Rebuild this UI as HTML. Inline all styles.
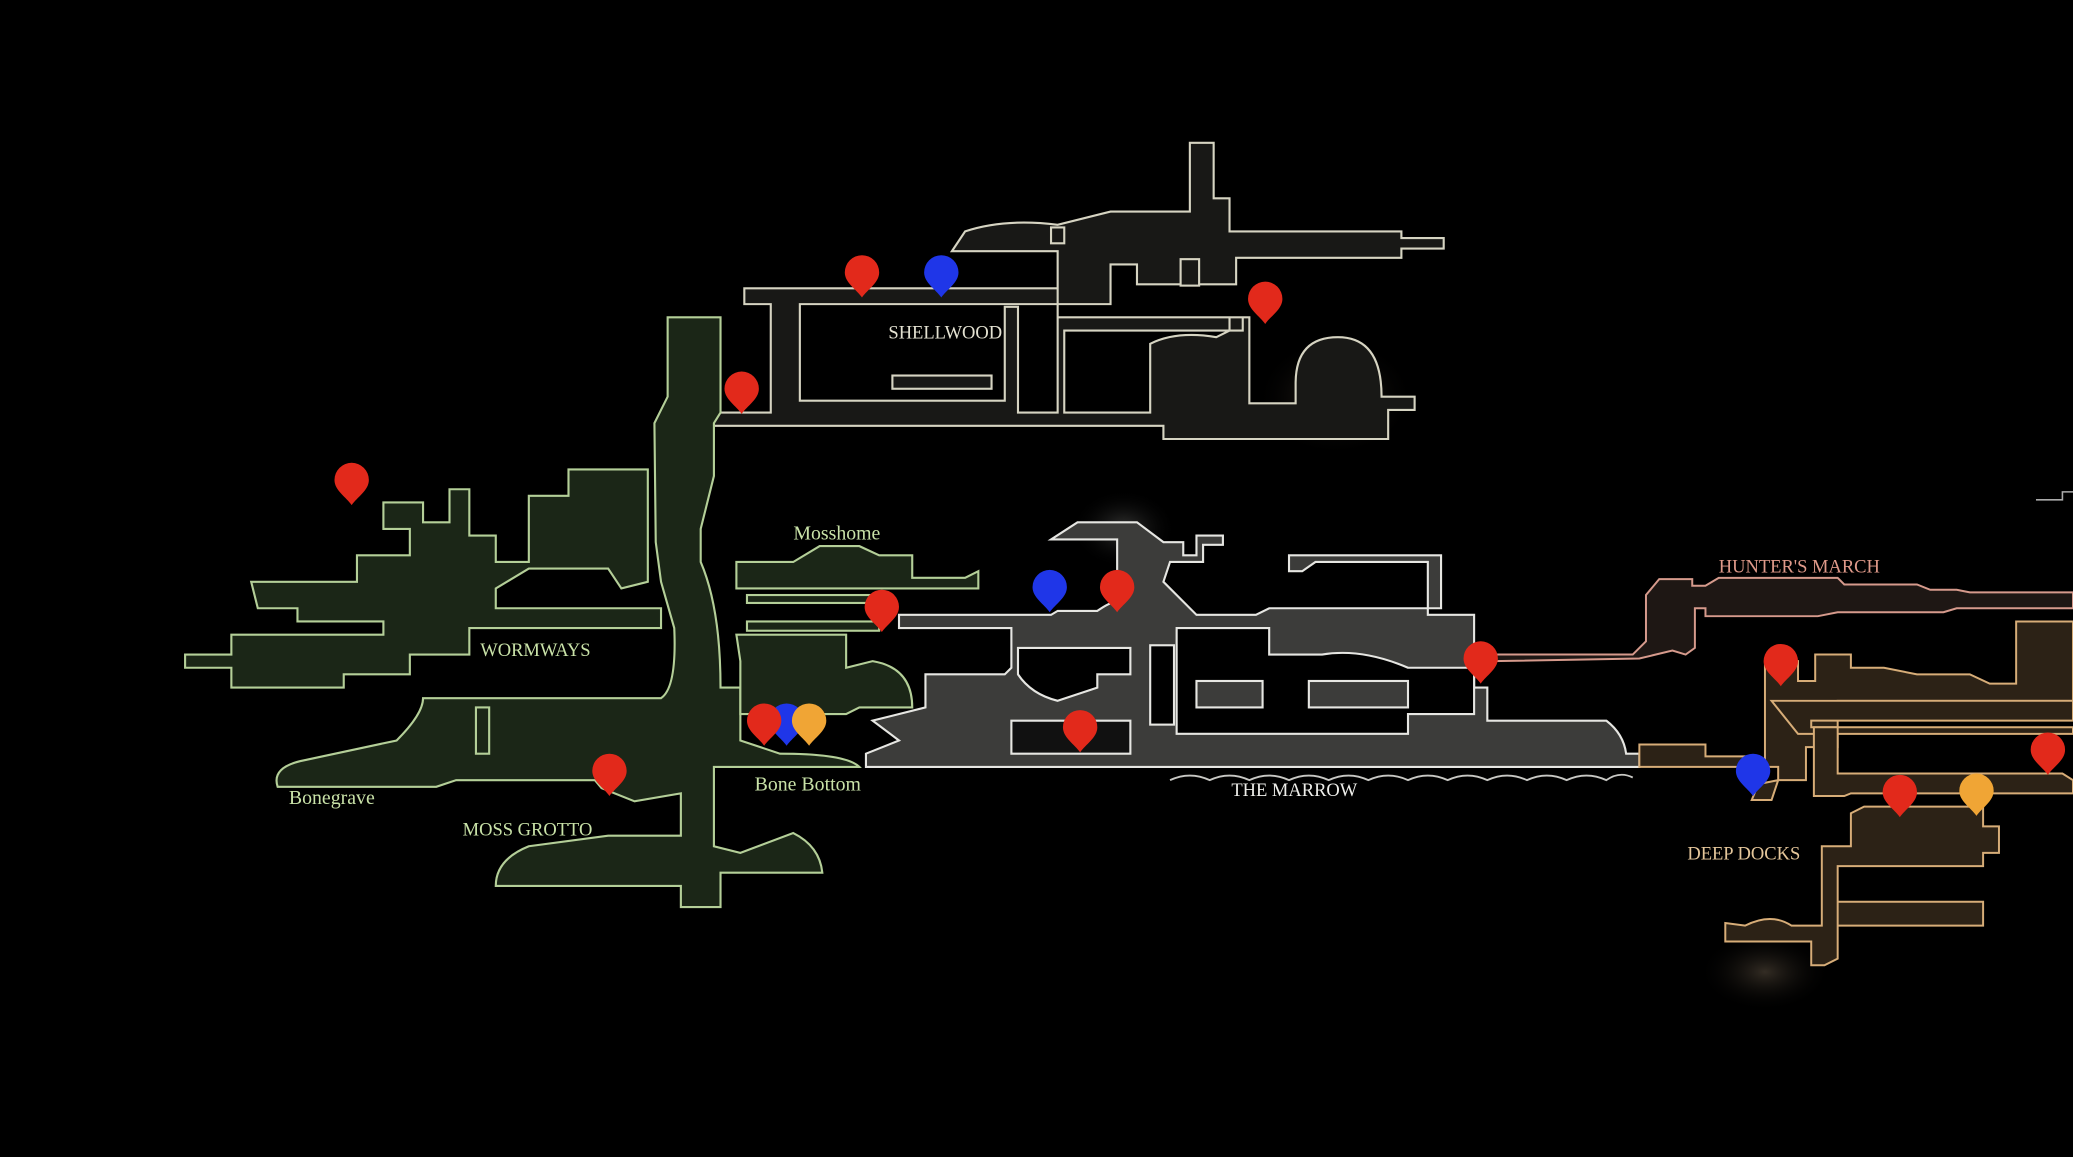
<!DOCTYPE html>
<html><head><meta charset="utf-8"><style>
html,body{margin:0;padding:0;background:#000;}
svg{display:block}
text{font-family:"Liberation Serif",serif;}
</style></head><body>
<svg width="2073" height="1157" viewBox="0 0 1568 875" preserveAspectRatio="none" xmlns="http://www.w3.org/2000/svg">
<defs>
<radialGradient id="gl" cx="50%" cy="50%" r="50%"><stop offset="0" stop-color="#4a4034" stop-opacity="0.7"/><stop offset="1" stop-color="#000" stop-opacity="0"/></radialGradient>
<radialGradient id="gm" cx="50%" cy="50%" r="50%"><stop offset="0" stop-color="#5a5a58" stop-opacity="0.6"/><stop offset="1" stop-color="#000" stop-opacity="0"/></radialGradient>
<path id="pin" d="M0,17 C-4,11 -13,6 -13,-2 A13,13 0 1 1 13,-2 C13,6 4,11 0,17 Z"/>
</defs>
<rect width="1568" height="875" fill="#000"/>
<ellipse cx="1010" cy="300" rx="60" ry="45" fill="url(#gl)"/>
<ellipse cx="1335" cy="735" rx="50" ry="30" fill="url(#gl)"/>
<ellipse cx="850" cy="400" rx="40" ry="30" fill="url(#gm)"/>

<!-- SHELLWOOD -->
<g fill="#181816" stroke="#d6d4c2" stroke-width="1.6">
<path d="M563,218 H800 V230 H605 V303 H760 V232 H770 V312 H800 V190 H720 L730,175 Q760,165 800,170 L840,160 H900 V108 H918 V150 H930 V175 H1060 V180 H1092 V188 H1060 V195 H935 V215 H860 V200 H840 V230 H800 V240 H940 V250 H805 V312 H870 V260 Q890,250 920,255 L930,250 V240 H945 V305 H980 V290 Q980,255 1012,255 Q1045,255 1045,300 H1070 V310 H1050 V332 H880 V322 H540 V312 H583 V230 H563 Z"/>
<rect x="675" y="284" width="75" height="10"/>
<rect x="795" y="172" width="10" height="12"/>
<rect x="893" y="196" width="14" height="20"/>
</g>

<!-- WORMWAYS / MOSS (green) -->
<g fill="#1b2617" stroke="#b4cf98" stroke-width="1.6">
<path d="M505,240 H545 V312 L540,320 V360 L530,400 V425 Q545,460 545,520 H560 V560 L590,570 Q640,570 650,580 H540 V640 L560,645 L600,630 Q620,640 622,660 H545 V686 H515 V670 H375 Q375,650 400,640 L460,632 H515 V600 L480,606 L455,596 L450,590 H345 L330,595 H210 Q205,580 230,575 L300,560 Q320,540 320,528 H500 Q512,520 510,475 L500,440 L496,410 L495,320 L505,300 Z"/>
<path d="M190,440 H270 V420 H310 V400 H290 V380 L320,380 V395 H340 V370 H355 V405 H375 V425 H400 V375 H430 V355 H490 V440 L470,445 L460,430 H400 L375,445 V460 H500 V475 H355 V495 H310 V510 H260 V520 H175 V505 H140 V495 H175 V480 H290 V470 H225 V460 H195 Z"/>
<rect x="360" y="535" width="10" height="35"/>
<path d="M557,425 H600 L620,413 H650 L665,420 H690 V437 H730 L740,432 V445 H557 Z"/>
<rect x="565" y="450" width="110" height="6"/>
<rect x="565" y="470" width="100" height="7"/>
<path d="M557,480 H640 V505 L660,500 Q690,505 690,535 H650 L640,540 H560 V500 Z"/>
</g>

<!-- MARROW (grey) -->
<g fill="#3c3c3a" stroke="#e6e6e2" stroke-width="1.6">
<path d="M680,465 H795 L800,462 H830 Q840,455 845,455 V408 H795 L815,395 H860 L880,410 H895 V420 H905 V405 H925 V412 H910 V425 H885 L880,440 Q895,455 905,465 H950 L960,460 H1090 V420 H975 V432 H985 L995,425 H1080 V465 H1115 V520 H1125 V545 H1215 Q1228,555 1230,570 H1240 V580 H655 V570 L680,560 L660,545 L700,535 V510 H760 L765,505 V475 H680 Z"/>
<path d="M770,490 H855 V510 H830 V520 L800,530 Q780,525 770,510 Z" fill="#000"/>
<path d="M765,545 H855 V570 H765 Z" fill="#111"/>
<path d="M890,475 H960 V495 H1000 Q1030,490 1065,505 H1115 V540 H1065 V555 H890 Z" fill="#000"/>
<rect x="870" y="488" width="18" height="60" fill="#000"/>
<rect x="990" y="515" width="75" height="20" fill="#3c3c3a"/>
<rect x="905" y="515" width="50" height="20" fill="#3c3c3a"/>
</g>
<path d="M885,590 Q900,583 915,590 Q930,583 945,590 Q960,583 975,590 Q990,583 1005,590 Q1020,583 1035,590 Q1050,583 1065,590 Q1080,583 1095,590 Q1110,583 1125,590 Q1140,583 1155,590 Q1170,583 1185,590 Q1200,583 1215,590 Q1225,583 1235,588" fill="none" stroke="#c8c8c4" stroke-width="1.4"/>

<!-- HUNTER'S MARCH -->
<g fill="#1e1714" stroke="#d69a8c" stroke-width="1.5">
<path d="M1130,495 H1235 L1245,485 V450 L1255,438 H1280 V443 H1290 L1300,437 H1390 L1395,442 H1450 L1460,446 H1480 L1490,448 H1568 V460 H1480 L1470,463 H1390 L1375,466 H1290 V460 H1282 V490 L1275,495 L1265,492 L1240,498 L1130,500 Z"/>
</g>

<!-- DEEP DOCKS -->
<g fill="#2c2216" stroke="#d7ad78" stroke-width="1.5">
<path d="M1335,500 H1360 V515 H1373 V495 H1400 V505 H1425 L1450,510 H1490 L1505,517 H1525 V470 H1568 V530 H1390 V565 H1366 V590 H1345 L1340,605 H1325 L1330,593 L1345,590 L1345,580 H1335 Z"/>
<path d="M1340,530 H1568 V545 H1370 V550 H1568 V555 H1360 Z"/>
<path d="M1372,550 H1390 V585 H1560 L1568,590 V600 H1400 L1395,602 H1372 Z"/>
<path d="M1240,563 H1290 V572 H1325 V580 H1240 Z"/>
<path d="M1400,615 L1410,610 H1500 V625 H1512 V645 H1500 V655 H1390 V700 H1500 V682 H1390 V660 V725 L1380,730 H1370 V712 H1305 V698 L1320,700 Q1340,690 1355,700 H1378 V640 H1400 Z"/>
</g>
<path d="M1540,378 H1560 V372 H1568" fill="none" stroke="#aaa" stroke-width="1.2"/>

<!-- LABELS -->
<g font-size="14" text-anchor="middle">
<text x="715" y="256" fill="#e4e2d2">SHELLWOOD</text>
<text x="633" y="408" fill="#c9e2a8" font-size="15">Mosshome</text>
<text x="405" y="496" fill="#c9e2a8">WORMWAYS</text>
<text x="251" y="608" fill="#c9e2a8" font-size="15">Bonegrave</text>
<text x="399" y="632" fill="#c9e2a8">MOSS GROTTO</text>
<text x="611" y="598" fill="#c9e2a8" font-size="15">Bone Bottom</text>
<text x="979" y="602" fill="#eeeeea">THE MARROW</text>
<text x="1361" y="433" fill="#e09a8a">HUNTER'S MARCH</text>
<text x="1319" y="650" fill="#e4c69a">DEEP DOCKS</text>
</g>

<!-- PINS -->
<g fill="#e2291b">
<use href="#pin" x="652" y="208"/><use href="#pin" x="561" y="296"/><use href="#pin" x="957" y="228"/>
<use href="#pin" x="266" y="365"/><use href="#pin" x="667" y="461"/><use href="#pin" x="845" y="446"/>
<use href="#pin" x="1120" y="500"/><use href="#pin" x="817" y="552"/><use href="#pin" x="461" y="585"/>
<use href="#pin" x="1347" y="502"/><use href="#pin" x="1549" y="569"/><use href="#pin" x="1437" y="601"/>
</g>
<g fill="#1f36e8">
<use href="#pin" x="712" y="208"/><use href="#pin" x="794" y="446"/><use href="#pin" x="595" y="547"/><use href="#pin" x="1326" y="585"/>
</g>
<use href="#pin" x="578" y="547" fill="#e2291b"/>
<g fill="#f0a535">
<use href="#pin" x="612" y="547"/><use href="#pin" x="1495" y="600"/>
</g>
</svg>
</body></html>
